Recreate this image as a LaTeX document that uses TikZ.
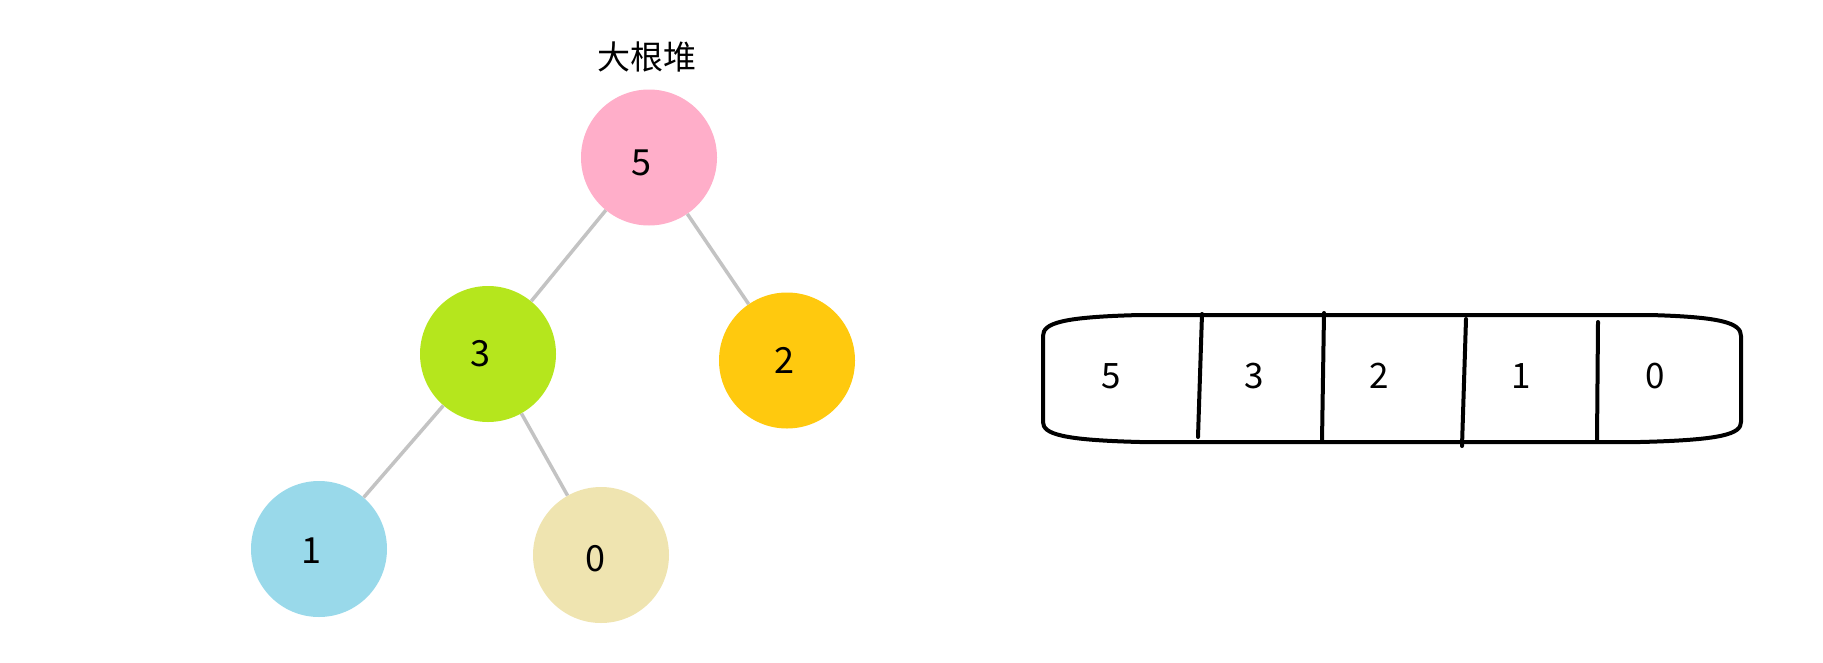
\documentclass[tikz,border=0pt]{standalone}
\usepackage{fontspec}
\setmainfont{Noto Sans CJK SC}
\definecolor{cpink}{HTML}{FFAEC9}
\definecolor{cgreen}{HTML}{B5E61D}
\definecolor{cyellow}{HTML}{FFC90E}
\definecolor{cblue}{HTML}{99D9EA}
\definecolor{cbeige}{HTML}{EFE4B0}
\definecolor{cedge}{HTML}{C3C3C3}
\begin{document}
\begin{tikzpicture}[x=1pt,y=-1pt,
  heapnode/.style={circle,minimum size=136pt,inner sep=0pt,draw=none},
  num/.style={font=\fontsize{36}{40}\selectfont,inner sep=0pt},
  edge/.style={draw=cedge,line width=3.5pt},
  arr/.style={draw=black,line width=4pt,line join=round,line cap=round},
  cell/.style={font=\fontsize{35}{40}\selectfont,inner sep=0pt}]
\useasboundingbox (0,0) rectangle (1823,662);
\node[font=\fontsize{33}{40}\selectfont] (title) at (647,57) {大根堆};
\node[heapnode,fill=cpink,label={[num,xshift=-8pt,yshift=-5pt]center:5}] (n5) at (649,157.5) {};
\node[heapnode,fill=cgreen,label={[num,xshift=-8pt]center:3}] (n3) at (488,354) {};
\node[heapnode,fill=cyellow,label={[num,xshift=-3pt]center:2}] (n2) at (787,360.5) {};
\node[heapnode,fill=cblue,label={[num,xshift=-8pt,yshift=-2pt]center:1}] (n1) at (319,549) {};
\node[heapnode,fill=cbeige,label={[num,xshift=-6pt,yshift=-4pt]center:0}] (n0) at (601,555) {};
\draw[edge] (n5) -- (n3);
\draw[edge] (n5) -- (n2);
\draw[edge] (n3) -- (n1);
\draw[edge] (n3) -- (n0);
% array
\draw[arr] (1140,315) -- (1650,315) .. controls (1722,317) and (1741,323) .. (1741,336)
  -- (1741,422) .. controls (1741,434) and (1722,440) .. (1640,442)
  -- (1140,442) .. controls (1062,440) and (1043,434) .. (1043,422)
  -- (1043,336) .. controls (1043,323) and (1062,317) .. (1140,315) -- cycle;
\draw[arr] (1202,314) -- (1198,437);
\draw[arr] (1324,313) -- (1322,441);
\draw[arr] (1466,319) -- (1462,446);
\draw[arr] (1598,322) -- (1597,441);
\node[cell] (a5) at (1111,376) {5};
\node[cell] (a3) at (1254,376) {3};
\node[cell] (a2) at (1379,376) {2};
\node[cell] (a1) at (1521,376) {1};
\node[cell] (a0) at (1655,376) {0};
\end{tikzpicture}
\end{document}
